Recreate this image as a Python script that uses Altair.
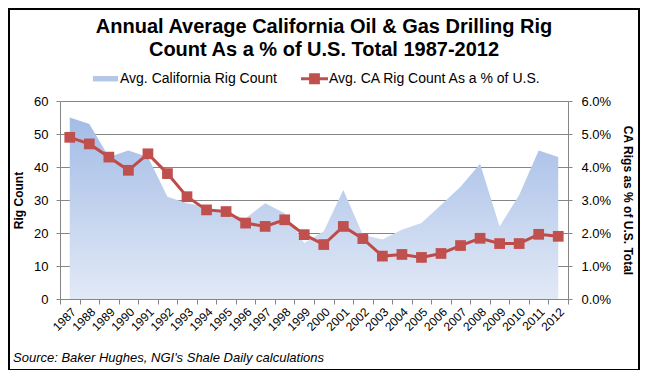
import altair as alt
import pandas as pd

years = [str(y) for y in range(1987, 2013)]
rig_count = [55, 53, 43, 45, 43, 31, 29, 28, 26, 24.5, 29, 26, 17, 20.5,
             33, 19.5, 18, 21, 23, 28.5, 34, 41, 22, 31.5, 45, 43]
ca_share = [0.049, 0.047, 0.043, 0.039, 0.044, 0.038, 0.031, 0.027, 0.0265,
            0.023, 0.022, 0.024, 0.0195, 0.0165, 0.022, 0.0183, 0.013, 0.0135,
            0.0126, 0.0138, 0.0162, 0.0184, 0.0168, 0.0168, 0.0196, 0.019]
series_names = ["Avg. California Rig Count", "Avg. CA Rig Count As a % of U.S."]
left_ticks = [0, 10, 20, 30, 40, 50, 60]
right_ticks = [0, 0.01, 0.02, 0.03, 0.04, 0.05, 0.06]
title_lines = ["Annual Average California Oil & Gas Drilling Rig",
               "Count As a % of U.S. Total 1987-2012"]
source_text = ["Source: Baker Hughes, NGI's Shale Daily calculations"]

FONT = "Liberation Sans"
GRAY = "#868686"

df = pd.DataFrame({"year": years, "rigs": rig_count, "share": ca_share})

xscale = alt.Scale(type="band", paddingInner=0, paddingOuter=0)
xaxis = alt.Axis(title=None, labelAngle=315, labelFontSize=12, labelColor="black",
                 tickBand="extent", tickSize=5, labelPadding=2)
x = alt.X("year:O", bandPosition=0.5, scale=xscale, axis=xaxis)

gradient = alt.Gradient(
    gradient="linear",
    stops=[alt.GradientStop(color="#a3bce6", offset=0),
           alt.GradientStop(color="#e2e9f6", offset=1)],
    x1=1, x2=1, y1=0, y2=1,
)

area = alt.Chart(df).mark_area(color=gradient).encode(
    x=x,
    y=alt.Y("rigs:Q", scale=alt.Scale(domain=[0, 60]),
            axis=alt.Axis(title="Rig Count", values=left_ticks, grid=True,
                          gridColor=GRAY, gridWidth=1, labelFontSize=13,
                          labelPadding=8, tickSize=4, titleFontSize=12,
                          titlePadding=8, labelColor="black", titleColor="black")),
)

line = alt.Chart(df).mark_line(
    color="#be4b48", strokeWidth=3,
    point=alt.OverlayMarkDef(shape="square", size=115, filled=True,
                             color="#c0504d", opacity=1),
).encode(
    x=x,
    y=alt.Y("share:Q", scale=alt.Scale(domain=[0, 0.06]),
            axis=alt.Axis(orient="right", title="CA Rigs as % of U.S. Total",
                          values=right_ticks, format=".1%", grid=False,
                          labelFontSize=13, labelPadding=9, tickSize=4,
                          titleFontSize=12, titlePadding=10,
                          labelColor="black", titleColor="black")),
)

rect_path = "M-0.93,-0.2H0.93V0.2H-0.93Z"
line_sq_path = "M-1,-0.11H1V0.11H-1Z M-0.4,-0.4H0.4V0.4H-0.4Z"
leg = alt.Legend(title=None, orient="none", legendX=32, legendY=-36,
                 direction="horizontal", symbolSize=729, symbolStrokeWidth=0,
                 labelFontSize=14, labelColor="black", labelOffset=1,
                 labelLimit=400, columnPadding=24, padding=0)

legend_df = pd.DataFrame({"series": series_names})
legend_layer = alt.Chart(legend_df).transform_filter("false").mark_point(
    filled=True, opacity=1
).encode(
    color=alt.Color("series:N", scale=alt.Scale(domain=series_names,
                                                range=["#b4c7e8", "#c0504d"]), legend=leg),
    shape=alt.Shape("series:N", scale=alt.Scale(domain=series_names,
                                                range=[rect_path, line_sq_path]), legend=leg),
)

title_layer = alt.Chart(pd.DataFrame({"t": ["\n".join(title_lines)]})).mark_text(
    align="center", baseline="alphabetic", fontSize=20, fontWeight="bold",
    font=FONT, color="black", lineBreak="\n", lineHeight=23
).encode(text="t:N", x=alt.value(264), y=alt.value(-68))

src = alt.Chart(pd.DataFrame({"t": source_text})).mark_text(
    align="left", baseline="alphabetic", fontStyle="italic", fontSize=13,
    font=FONT, color="black"
).encode(text="t:N", x=alt.value(-47), y=alt.value(261))

frame = alt.Chart(pd.DataFrame({"t": source_text})).mark_rect(
    fillOpacity=0, stroke="black", strokeWidth=2
).encode(x=alt.value(-51), x2=alt.value(579), y=alt.value(-92), y2=alt.value(269))

chart = alt.layer(area, line, legend_layer, title_layer, src, frame).resolve_scale(
    y="independent"
).properties(
    width=508, height=198,
    padding={"left": 52, "top": 93, "right": 72, "bottom": 71},
    autosize=alt.AutoSizeParams(type="none"),
).configure_view(strokeWidth=0).configure_axis(
    labelFont=FONT, titleFont=FONT, domainColor=GRAY, tickColor=GRAY
).configure_legend(labelFont=FONT)

chart.save("out.html", embed_options={"renderer": "svg", "actions": False})
